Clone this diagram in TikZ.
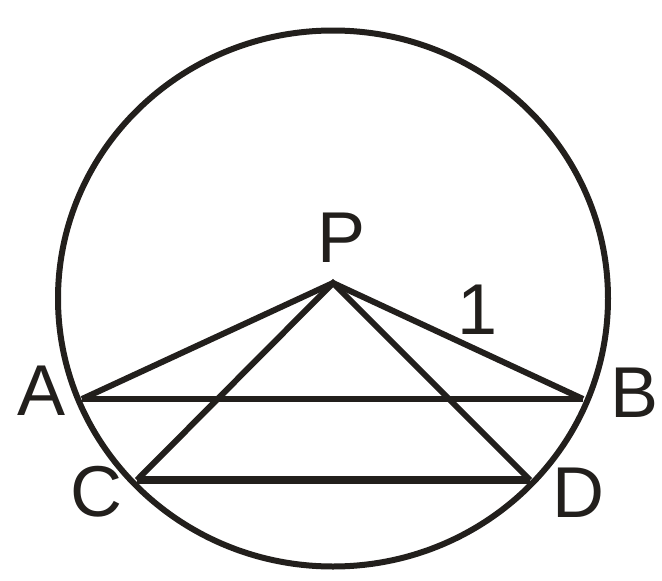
\documentclass[tikz,border=0pt]{standalone}
\usepackage{fontspec}
\setmainfont{Liberation Sans}
\definecolor{ink}{HTML}{221F1C}
\begin{document}
\begin{tikzpicture}[x=1pt,y=-1pt,line width=6pt,draw=ink,
	lbl/.style={inner sep=0pt,text=ink,font=\fontsize{72}{72}\selectfont}]
		\useasboundingbox (0,0) rectangle (662,581);
		\draw[ink] (333,298.5) ellipse [x radius=275, y radius=268];
		% points on the circle
		\coordinate (p) at (333,283);
		\coordinate (a) at (82,399);
		\coordinate (b) at (583,399);
		\coordinate (c) at (137,480);
		\coordinate (d) at (530,480);
		\draw[ink,line join=miter] (a) -- (p) -- (b);
		\draw[ink] (a) -- (b);
		\draw[ink,line join=miter] (c) -- (p) -- (d);
		\draw[ink,line width=8pt] (c) -- (d);
		% labels
		\node[lbl] at (342,238) (lp) {P};
		\node[lbl] at (42,391) (la) {A};
		\node[lbl] at (635,393) (lb) {B};
		\node[lbl] at (96,492) (lc) {C};
		\node[lbl] at (578,493) (ld) {D};
		\node[lbl] at (478,310) (l1) {1};
	\end{tikzpicture}
\end{document}
